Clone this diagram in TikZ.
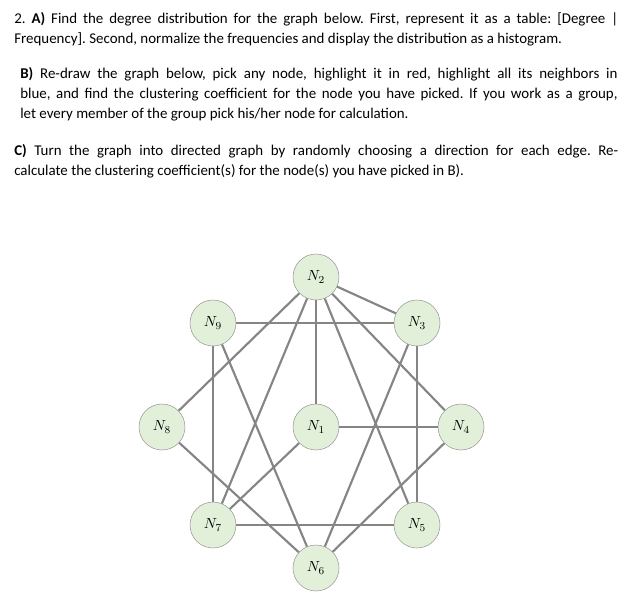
\documentclass[tikz,border=0pt]{standalone}
\usepackage{fontspec}
\setmainfont{Carlito}
\definecolor{nodefill}{HTML}{E2EFD9}
\definecolor{edgecol}{HTML}{858585}
\begin{document}
\frenchspacing
\begin{tikzpicture}[x=0.75pt,y=-0.75pt,
  gn/.style={circle,draw=gray!80,fill=nodefill,minimum size=34.5pt,inner sep=0pt,font=\fontsize{11}{13}\selectfont},
  ed/.style={draw=edgecol,line width=1.6pt},
  para/.style={anchor=north west,text width=453pt,align=justify,inner sep=0pt,font=\fontsize{11.2}{15}\selectfont}]
\useasboundingbox (0,0) rectangle (627,612);
\node[para] (ta) at (14,12) {2. \textbf{A)} Find the degree distribution for the graph below. First, represent it as a table: [Degree |\linebreak Frequency]. Second, normalize the frequencies and display the distribution as a histogram.};
\node[para,text width=448pt] (tb) at (20,67) {\textbf{B)} Re-draw the graph below, pick any node, highlight it in red, highlight all its neighbors in\linebreak blue, and find the clustering coefficient for the node you have picked. If you work as a group,\linebreak let every member of the group pick his/her node for calculation.};
\node[para] (tc) at (14,144) {\textbf{C)} Turn the graph into directed graph by randomly choosing a direction for each edge. Re-\linebreak calculate the clustering coefficient(s) for the node(s) you have picked in B).};
\node[gn] (n2) at (316,277) {$N_2$};
\node[gn] (n9) at (213,323) {$N_9$};
\node[gn] (n3) at (417,323) {$N_3$};
\node[gn] (n8) at (162,427) {$N_8$};
\node[gn] (n1) at (316,427) {$N_1$};
\node[gn] (n4) at (461,427) {$N_4$};
\node[gn] (n7) at (213,525) {$N_7$};
\node[gn] (n5) at (417,525) {$N_5$};
\node[gn] (n6) at (316,568) {$N_6$};
\foreach \a/\b in {n2/n3,n2/n8,n2/n7,n2/n1,n2/n5,n2/n4,n9/n3,n9/n7,n9/n6,n3/n6,n3/n5,n8/n6,n1/n4,n1/n7,n7/n5,n4/n6}
  \draw[ed] (\a) -- (\b);
\end{tikzpicture}
\end{document}
